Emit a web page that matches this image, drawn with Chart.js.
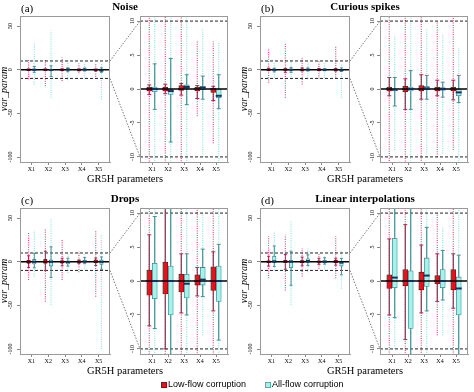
<!DOCTYPE html>
<html><head><meta charset="utf-8">
<script src="https://cdn.jsdelivr.net/npm/chart.js@4.4.1/dist/chart.umd.min.js"></script>
<style>
html,body{margin:0;padding:0;background:#fff;}
#root{position:relative;width:474px;height:392px;overflow:hidden;font-family:"Liberation Serif","Times New Roman",serif;}
canvas{position:absolute;}
.t{position:absolute;white-space:nowrap;color:#000;}
</style></head><body><div id="root"></div>
<script>
const categories = ['X1','X2','X3','X4','X5'];
const panelTags = ['(a)','(b)','(c)','(d)'];
const panelTitles = ['Noise','Curious spikes','Drops','Linear interpolations'];
const xAxisTitle = 'GR5H parameters';
const yAxisTitle = 'var_param';
const seriesNames = ['Low-flow corruption','All-flow corruption'];
const fullTicks = [50,0,-50,-100];
const zoomTicks = [10,5,0,-5,-10];
const thresholds = [-10,10];

// each row = one parameter: [whiskerLow, q1, median, q3, whiskerHigh, outlierMin, outlierMax]
const noiseLow = [
 [-0.8,-0.3,0,0.3,0.6,-11,12],
 [-0.7,-0.3,0,0.3,0.7,-19,12],
 [-0.9,-0.2,0,0.5,0.8,-13,14],
 [-1.4,-0.3,0,0.3,0.5,-4,7],
 [-1.7,-0.5,0,0.1,0.4,-8,7]
];
const noiseAll = [
 [-3.0,-0.4,0,0.3,3.7,-17,31],
 [-7.8,-0.8,-0.3,0,4.5,-32,45],
 [-2.3,0,0.3,0.6,2.1,-12,11],
 [-1.5,-0.1,0.2,0.4,1.9,-10,9],
 [-2.9,-1.3,-1.0,0,2.1,-34,7]
];
const spikesLow = [
 [-1.0,-0.3,0,0.3,1.7,-15,24],
 [-3.0,-0.4,0,0.4,1.5,-32,30],
 [-1.5,-0.3,0,0.5,2.1,-17,14],
 [-1.0,-0.3,0,0.3,1.3,-10,10],
 [-1.6,-0.3,0,0.3,1.3,-9,28]
];
const spikesAll = [
 [-2.5,-0.3,-0.1,0,1.7,-9,8],
 [-3.0,-0.3,0,0.3,2.7,-11,11],
 [-1.5,-0.1,0.1,0.4,2.0,-10,9],
 [-1.2,-0.2,0,0.2,1.0,-9.5,8],
 [-2.0,-1.0,-0.5,0,2.0,-32,6]
];
const dropsLow = [
 [-6.6,-2.1,0,1.6,6.8,-21,33],
 [-10,-1.9,0,2.8,12,-46,37],
 [-4.7,-1.6,0,1.0,4.0,-21,25],
 [-2.2,-0.6,0,0.9,2.0,-12,12],
 [-4.4,-1.4,0,2.1,4.3,-40,36]
];
const dropsAll = [
 [-7.0,-2.6,0,2.6,9.5,-17,36],
 [-18,-5.0,0,2.2,17,-50,50],
 [-5.0,-2.5,-0.4,1.0,4.0,-13,11],
 [-2.3,-0.6,0.2,2.0,4.7,-8,10],
 [-8.7,-3.0,0,2.2,5.4,-100,31]
];
const interpLow = [
 [-5.0,-1.1,0,0.9,6.2,-19,29],
 [-8.6,-0.7,0,1.7,8.3,-33,31],
 [-4.7,-1.3,0,1.3,5.3,-17,15],
 [-3.0,-0.4,0,0.8,4.0,-8,10],
 [-4.0,-1.3,0,1.7,4.0,-19,29]
];
const interpAll = [
 [-5.4,-1.0,0.5,6.3,18,-10,35],
 [-27,-7.0,0,1.5,12,-50,46],
 [-4.4,-0.8,0.8,3.4,7.9,-12,15],
 [-2.8,-1.0,0,1.7,4.5,-8,8],
 [-15,-5.0,-1.1,0.6,3.8,-31,12]
];

const SERIF = '"Liberation Serif","Times New Roman",serif';
const SANS = '"Liberation Sans",Arial,sans-serif';
const statsByPanel = [[noiseLow,noiseAll],[spikesLow,spikesAll],[dropsLow,dropsAll],[interpLow,interpAll]];
const panelOrigins = [[0,0],[240,0],[0,192],[240,192]];
const STYLE = [
 {off:-0.17, dot:'rgba(212,38,92,0.8)', whisk:'#b3234f', fill:'#e3141c', border:'#8c0b16', med:'#2b0a12'},
 {off:0.17, dot:'rgba(112,222,212,0.8)', whisk:'#4a8f95', fill:'#a8f1e9', border:'#3e8a90', med:'#17335c'}
];

const root = document.getElementById('root');

function seg(stats, off, a, b){
  const d=[];
  stats.forEach((s,i)=>{const x=i+1+off; d.push({x,y:s[a]},{x,y:s[b]},{x,y:null});});
  return d;
}
function pts(stats, off, idxs){
  const d=[];
  stats.forEach((s,i)=>{const x=i+1+off; idxs.forEach(k=>d.push({x,y:s[k]}));});
  return d;
}
function buildDatasets(pair, zoom, xmin, xmax){
  const ds=[];
  const barW = zoom?5:3.5, capR = zoom?2:1.5, medR = zoom?3:2;
  pair.forEach((stats,si)=>{
    const st=STYLE[si];
    ds.push({type:'line', data:seg(stats,st.off,5,6), borderColor:st.dot, borderWidth:1.2, borderDash:[1,1.3], pointRadius:0, spanGaps:false, order:6, clip:0});
    ds.push({type:'line', data:seg(stats,st.off,0,4), borderColor:st.whisk, borderWidth:zoom?1.2:1, pointRadius:0, spanGaps:false, order:4, clip:0});
    ds.push({type:'scatter', data:pts(stats,st.off,[0,4]), pointStyle:'line', pointRadius:capR, pointBorderColor:st.whisk, pointBorderWidth:1, pointBackgroundColor:st.whisk, order:3, clip:0});
    ds.push({type:'bar', data:stats.map((s,i)=>({x:i+1+st.off, y:[s[1],s[3]]})), backgroundColor:st.fill, borderColor:st.border, borderWidth:0.8, borderSkipped:false, barThickness:barW, maxBarThickness:barW, grouped:false, order:2, clip:0});
    ds.push({type:'scatter', data:pts(stats,st.off,[2]), pointStyle:'line', pointRadius:medR, pointBorderColor:st.med, pointBorderWidth:2, pointBackgroundColor:st.med, order:0, clip:0});
  });
  ds.push({type:'line', data:[{x:xmin,y:0},{x:xmax,y:0}], borderColor:'#000', borderWidth:1.4, pointRadius:0, order:1, clip:0});
  const th=[]; thresholds.forEach(t=>{th.push({x:xmin,y:t},{x:xmax,y:t},{x:xmin,y:null});});
  ds.push({type:'line', data:th, borderColor:'#222', borderWidth:1, borderDash:[3,2], pointRadius:0, spanGaps:false, order:5, clip:0});
  return ds;
}
const framePlugin = {id:'frame', afterDatasetsDraw(c){
  const a=c.chartArea, x=c.ctx; x.save(); x.strokeStyle='#9a9a9a'; x.lineWidth=1;
  x.strokeRect(Math.round(a.left)+0.5, Math.round(a.top)+0.5, Math.round(a.right-a.left)-1, Math.round(a.bottom-a.top));
  x.restore();
}};
function makeChart(left, top, w, h, pair, zoom, yw, padRight){
  const cv=document.createElement('canvas');
  cv.width=w; cv.height=h; cv.style.left=left+'px'; cv.style.top=top+'px';
  root.appendChild(cv);
  const xmin = zoom?0.25:0.32, xmax = zoom?5.75:5.68;
  const ymin = zoom?-10.75:-105.7, ymax = zoom?10.75:61.5;
  const yt = zoom?zoomTicks:fullTicks;
  return new Chart(cv,{
    type:'bar',
    data:{datasets:buildDatasets(pair,zoom,xmin,xmax)},
    options:{
      responsive:false, animation:false, events:[],
      layout:{padding:{top:16,right:padRight,left:0,bottom:0}},
      plugins:{legend:{display:false}, tooltip:{enabled:false}},
      scales:{
        x:{type:'linear', min:xmin, max:xmax, offset:false,
          afterBuildTicks:s=>{s.ticks=categories.map((c,i)=>({value:i+1}));},
          afterFit:s=>{s.height=23;},
          ticks:{callback:v=>categories[Math.round(v)-1], font:{family:SERIF,size:6}, color:'#000', minRotation:0, maxRotation:0, padding:1, autoSkip:false},
          grid:{drawOnChartArea:false, tickLength:3, color:'#888', offset:false},
          border:{display:true, color:'#9a9a9a'}},
        y:{type:'linear', min:ymin, max:ymax,
          afterBuildTicks:s=>{s.ticks=yt.map(v=>({value:v}));},
          afterFit:s=>{s.width=yw;},
          ticks:{font:{family:SERIF,size:6}, color:'#000', minRotation:90, maxRotation:90, crossAlign:'center', padding:1, autoSkip:false},
          grid:{drawOnChartArea:false, tickLength:3, color:'#888'},
          border:{display:true, color:'#9a9a9a'},
          title: zoom?{display:false}:{display:true, text:yAxisTitle, font:{family:SERIF,size:10,style:'italic',lineHeight:0.8}, padding:0, color:'#000'}}
      }
    },
    plugins:[framePlugin]
  });
}
function addText(txt, left, top, css){
  const d=document.createElement('div'); d.className='t'; d.textContent=txt;
  d.style.left=left+'px'; d.style.top=top+'px'; Object.assign(d.style, css||{});
  root.appendChild(d); return d;
}

const charts=[];
panelOrigins.forEach(([ox,oy],p)=>{
  const lc = makeChart(ox, oy, 116, 185, statsByPanel[p], false, 20, 5);
  const zc = makeChart(ox+121, oy, 113, 185, statsByPanel[p], true, 19, 2);
  charts.push({ox,oy,lc,zc});
  addText(panelTags[p], ox+21, oy+3, {fontSize:'11px', lineHeight:'11px'});
  addText(panelTitles[p], ox+125, oy+1, {fontSize:'11px', lineHeight:'11px', fontWeight:'bold', transform:'translateX(-50%)'});
  addText(xAxisTitle, ox+125, oy+173, {fontSize:'10.5px', lineHeight:'11px', transform:'translateX(-50%)'});
});

// connectors between the full view and the zoomed view at the threshold lines
const ov=document.createElement('canvas'); ov.width=474; ov.height=392; ov.style.left='0px'; ov.style.top='0px';
root.appendChild(ov);
const octx=ov.getContext('2d');
octx.strokeStyle='#777'; octx.lineWidth=1; octx.setLineDash([1.5,1.5]);
charts.forEach(({ox,oy,lc,zc})=>{
  thresholds.forEach(t=>{
    const x1=ox+lc.chartArea.right, y1=oy+lc.scales.y.getPixelForValue(t);
    const x2=ox+121+zc.chartArea.left, y2=oy+zc.scales.y.getPixelForValue(t);
    octx.beginPath(); octx.moveTo(x1,y1); octx.lineTo(x2,y2); octx.stroke();
  });
});

// legend
const legSq=[{fill:STYLE[0].fill,border:STYLE[0].border,x:161,tx:168},{fill:STYLE[1].fill,border:'#5aa9a9',x:265,tx:272}];
legSq.forEach((l,i)=>{
  const s=document.createElement('div');
  Object.assign(s.style,{position:'absolute',left:l.x+'px',top:'382px',width:'4px',height:'4px',background:l.fill,border:'1px solid '+l.border});
  root.appendChild(s);
  addText(seriesNames[i], l.tx, 379, {fontFamily:SANS, fontSize:'9px', lineHeight:'11px'});
});
</script>
</body></html>
